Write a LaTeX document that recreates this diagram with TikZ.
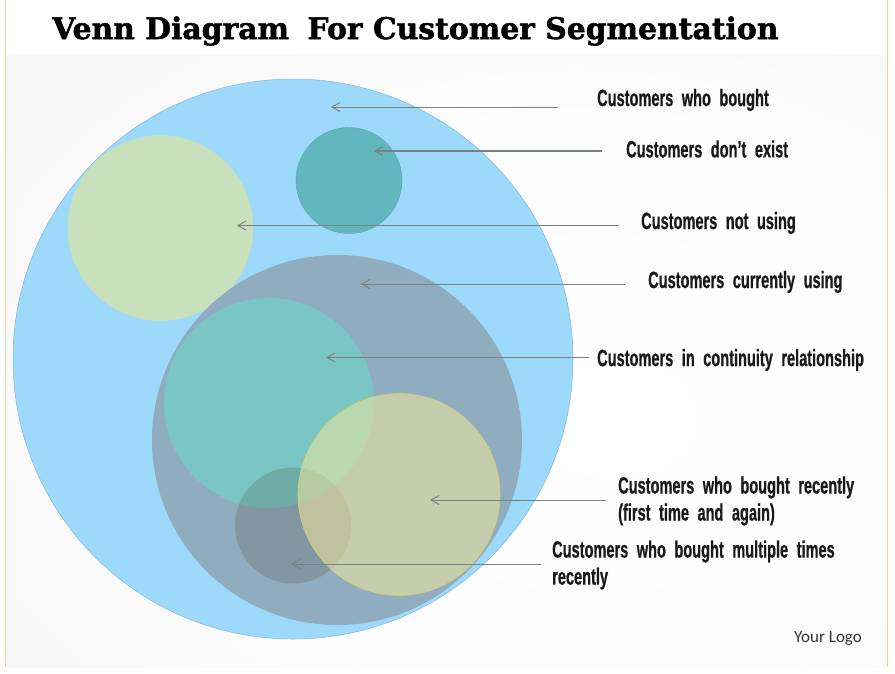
\documentclass[tikz,border=0pt]{standalone}
\usepackage{fontspec}
\usetikzlibrary{arrows.meta}
\newfontfamily\labfont[FakeStretch=0.62,WordSpace=2.1,FakeBold=0.6]{Liberation Sans Bold}
\newfontfamily\titlefont[FakeBold=1.6]{DejaVu Serif Bold}
\newfontfamily\logofont{Carlito}
\definecolor{cLine}{HTML}{788380}
\pgfdeclareradialshading{bgshade}{\pgfpoint{10bp}{-5bp}}{color(0bp)=(white); color(25bp)=(black!1); color(50bp)=(black!5); color(70bp)=(black!7); color(100bp)=(black!7)}
\tikzset{
  conn/.style={draw=cLine,line width=1pt,-{Straight Barb[length=8pt,width=9pt,line width=1pt]}},
  lab/.style={font=\labfont\fontsize{23.5}{27}\selectfont,text=black!90,anchor=west,inner sep=0pt,align=left}
}
\begin{document}
\begin{tikzpicture}[x=1pt,y=-1pt]
\useasboundingbox (0,0) rectangle (895,673);
\fill[white] (0,0) rectangle (895,673);
\shade[shading=bgshade] (5.5,55) rectangle (887.5,667);
\draw[color={rgb,255:red,245;green,205;blue,170},line width=0.8pt] (5.5,0) -- (5.5,667);
\draw[color={rgb,255:red,245;green,205;blue,170},line width=0.8pt] (887.5,0) -- (887.5,667);
\node[font=\titlefont\fontsize{29.8}{34}\selectfont,anchor=west,inner sep=0pt] (title) at (52,31) {Venn Diagram\hspace{8pt} For Customer Segmentation};
% circles
\definecolor{cBig}{HTML}{9CD9FA}
\definecolor{cGreen}{HTML}{C8E1BC}
\definecolor{cSmall}{HTML}{62B6BE}
\definecolor{cGray}{HTML}{8FADBF}
\definecolor{cTeal}{HTML}{79C6C4}
\definecolor{cYellow}{HTML}{FBED9D}
\fill[cBig,draw=cBig!85!black,line width=0.5pt] (293,359) circle (280);
\fill[cGreen,draw=cGreen!90!yellow] (160.5,228) circle (92.5);
\fill[cSmall,draw=cSmall!90!black] (349,180.5) circle (53);
\fill[cGray] (337,440) circle (185);
\fill[cTeal] (269,403) circle (105);
\fill[black!65!brown,fill opacity=0.17] (293,525.5) circle (58);
\fill[cYellow,fill opacity=0.5] (399,494.5) circle (101);
\draw[cYellow!70!olive,line width=0.6pt] (399,494.5) circle (101);
% labels
\node[lab] (l1) at (597,100) {Customers who bought};
\node[lab] (l2) at (626,149) {Customers don’t exist};
\node[lab] (l3) at (641,223) {Customers not using};
\node[lab] (l4) at (648,282) {Customers currently using};
\node[lab] (l5) at (597,360) {Customers in continuity relationship};
\node[lab] (l6) at (618,501) {Customers who bought recently\\(first time and again)};
\node[lab] (l7) at (552,565) {Customers who bought multiple times\\recently};
\node[font=\logofont\fontsize{17}{20}\selectfont,text=black!80,anchor=west,inner sep=0pt] (logo) at (794,638.5) {Your Logo};
% arrow tips
\coordinate (t1) at (331,107);
\coordinate (t2) at (374,151);
\coordinate (t3) at (237,225.5);
\coordinate (t4) at (361,284);
\coordinate (t5) at (326,357.5);
\coordinate (t6) at (430,500);
\coordinate (t7) at (291,564);
\draw[conn] ([shift={(-39,7)}]l1.west) -- (t1);
\draw[conn,line width=1.4pt] ([shift={(-24,2)}]l2.west) -- (t2);
\draw[conn] ([shift={(-22,2.5)}]l3.west) -- (t3);
\draw[conn] ([shift={(-23,2)}]l4.west) -- (t4);
\draw[conn] ([shift={(-8,-2.5)}]l5.west) -- (t5);
\draw[conn] ([shift={(-12,-1)}]l6.west) -- (t6);
\draw[conn] ([shift={(-11,-1)}]l7.west) -- (t7);
\end{tikzpicture}
\end{document}
